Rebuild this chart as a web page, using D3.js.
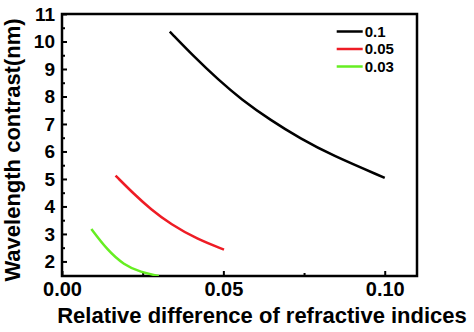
<!DOCTYPE html>
<html>
<head>
<meta charset="utf-8">
<script src="https://cdn.jsdelivr.net/npm/d3@7"></script>
<style>
body { margin: 0; background: #fff; }
text { font-family: "Liberation Sans", Arial, sans-serif; font-weight: bold; }
</style>
</head>
<body>
<div id="chart-area"></div>
<script>
// chart size
var width = 474;
var height = 332;

// data
var seriesNames = ["0.1", "0.05", "0.03"];
var seriesColors = ["#000000", "#ee1c25", "#66ee22"];

var blackX = [0.0334, 0.0409, 0.0486, 0.0554, 0.0647, 0.0740, 0.0833, 0.1000];
var blackY = [10.36, 9.45, 8.59, 7.91, 7.13, 6.46, 5.88, 5.04];

var redX = [0.0166, 0.0223, 0.0275, 0.0337, 0.0419, 0.0502];
var redY = [5.12, 4.45, 3.90, 3.35, 2.81, 2.43];

var greenX = [0.0091, 0.0140, 0.0192, 0.0244, 0.0300];
var greenY = [3.18, 2.42, 1.87, 1.61, 1.47];

var xTicks = [0, 0.05, 0.10];
var xTickLabels = ["0.00", "0.05", "0.10"];
var yTicks = [2, 3, 4, 5, 6, 7, 8, 9, 10, 11];

var margin = {top: 14, right: 57, bottom: 56, left: 62};
var innerW = width - margin.left - margin.right;
var innerH = height - margin.top - margin.bottom;

var svg = d3.select("#chart-area").append("svg")
  .attr("width", width)
  .attr("height", height);

var g = svg.append("g")
  .attr("transform", "translate(" + margin.left + "," + margin.top + ")");

// Scales
var x = d3.scaleLinear().domain([0, 0.11]).range([0, innerW]);
var y = d3.scaleLinear().domain([1.47, 11]).range([innerH, 0]);

// clip so curves stop at the frame
g.append("clipPath").attr("id", "clip")
  .append("rect").attr("width", innerW).attr("height", innerH);

// Axes (ticks pointing inwards)
var xAxis = g.append("g")
  .attr("transform", "translate(0," + innerH + ")")
  .call(d3.axisBottom(x).tickValues(xTicks).tickSize(-5).tickPadding(6)
    .tickFormat(function(d, i) { return xTickLabels[i]; }));
g.append("g")
  .attr("transform", "translate(0," + innerH + ")")
  .call(d3.axisBottom(x).tickValues([0.025, 0.075]).tickSize(-3).tickFormat(""));

var yAxis = g.append("g")
  .call(d3.axisLeft(y).tickValues(yTicks).tickSize(-5).tickPadding(7));
g.append("g")
  .call(d3.axisLeft(y).tickValues(d3.range(2.5, 11, 1)).tickSize(-3).tickFormat(""));

g.selectAll(".domain").remove();
g.selectAll(".tick line").attr("stroke", "#000").attr("stroke-width", 2);
xAxis.selectAll("text").attr("font-size", 20).attr("fill", "#000");
yAxis.selectAll("text").attr("font-size", 19).attr("fill", "#000");

// frame
g.append("rect")
  .attr("width", innerW)
  .attr("height", innerH)
  .attr("fill", "none")
  .attr("stroke", "#000")
  .attr("stroke-width", 2.5);

// curves
var line = d3.line()
  .x(function(d) { return x(d[0]); })
  .y(function(d) { return y(d[1]); })
  .curve(d3.curveBasis);

var series = [
  d3.zip(blackX, blackY),
  d3.zip(redX, redY),
  d3.zip(greenX, greenY)
];

g.append("g").attr("clip-path", "url(#clip)")
  .selectAll("path")
  .data(series)
  .enter()
  .append("path")
  .attr("d", line)
  .attr("fill", "none")
  .attr("stroke", function(d, i) { return seriesColors[i]; })
  .attr("stroke-width", 2.5);

// legend
var legend = g.append("g")
  .attr("transform", "translate(" + (336.7 - margin.left) + "," + (31.5 - margin.top) + ")");
var item = legend.selectAll("g")
  .data(seriesNames)
  .enter()
  .append("g")
  .attr("transform", function(d, i) { return "translate(0," + (i * 17.5) + ")"; });
item.append("line")
  .attr("x1", 0).attr("x2", 26)
  .attr("stroke", function(d, i) { return seriesColors[i]; })
  .attr("stroke-width", 2.5);
item.append("text")
  .attr("x", 28)
  .attr("dy", "0.35em")
  .attr("font-size", 15)
  .text(function(d) { return d; });

// axis titles
svg.append("text")
  .attr("x", 262)
  .attr("y", 323)
  .attr("text-anchor", "middle")
  .attr("font-size", 22)
  .text("Relative difference of refractive indices");

svg.append("text")
  .attr("transform", "translate(20," + 150 + ") rotate(-90)")
  .attr("text-anchor", "middle")
  .attr("font-size", 22)
  .text("Wavelength contrast(nm)");
</script>
</body>
</html>
